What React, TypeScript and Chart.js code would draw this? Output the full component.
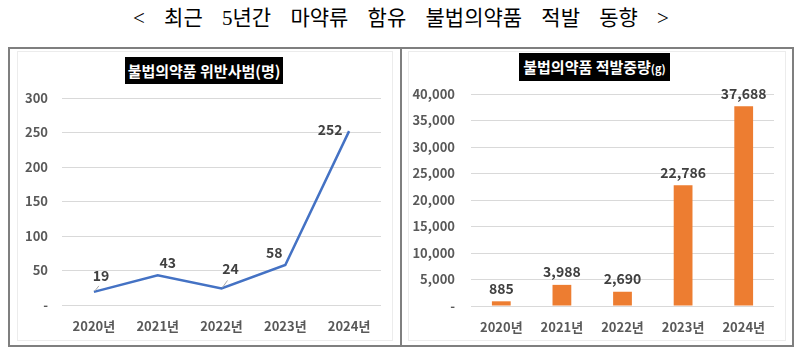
import React, { useEffect, useRef } from "react";
import { Chart, registerables } from "chart.js";

Chart.register(...registerables);

const years = ["2020년", "2021년", "2022년", "2023년", "2024년"];
const violators = [19, 43, 24, 58, 252];
const seizedGrams = [885, 3988, 2690, 22786, 37688];

const FONT = "'Noto Sans CJK KR', 'Noto Sans', sans-serif";
const TICK_COLOR = "#595959";
const LABEL_COLOR = "#404040";
const GRID_COLOR = "#d9d9d9";

const lineLabelPlugin = {
  id: "lineLabels",
  afterDatasetsDraw(chart: any, _args: any, opts: any) {
    const ctx = chart.ctx;
    const meta = chart.getDatasetMeta(0);
    const values = chart.data.datasets[0].data;
    ctx.save();
    ctx.font = `bold 14px ${FONT}`;
    ctx.fillStyle = LABEL_COLOR;
    ctx.textAlign = "center";
    ctx.textBaseline = "middle";
    meta.data.forEach((pt: any, i: number) => {
      const off = opts.offsets[i];
      if (off.leader) {
        ctx.strokeStyle = "#a6a6a6";
        ctx.lineWidth = 1;
        ctx.beginPath();
        ctx.moveTo(pt.x + 1, pt.y - 1);
        ctx.lineTo(pt.x + off.leader[0], pt.y + off.leader[1]);
        ctx.stroke();
      }
      ctx.fillText(String(values[i]), pt.x + off.dx, pt.y + off.dy);
    });
    ctx.restore();
  },
};

const barLabelPlugin = {
  id: "barLabels",
  afterDatasetsDraw(chart: any) {
    const ctx = chart.ctx;
    const meta = chart.getDatasetMeta(0);
    const values = chart.data.datasets[0].data;
    ctx.save();
    ctx.font = `bold 14px ${FONT}`;
    ctx.fillStyle = LABEL_COLOR;
    ctx.textAlign = "center";
    ctx.textBaseline = "middle";
    meta.data.forEach((bar: any, i: number) => {
      ctx.fillText(Number(values[i]).toLocaleString("en-US"), bar.x, bar.y - 13);
    });
    ctx.restore();
  },
};

function LineChart() {
  const ref = useRef<HTMLCanvasElement>(null);
  useEffect(() => {
    const chart = new Chart(ref.current!, {
      type: "line",
      data: {
        labels: years,
        datasets: [
          {
            data: violators,
            borderColor: "#4472C4",
            borderWidth: 2.5,
            pointRadius: 0,
            tension: 0,
          },
        ],
      },
      options: {
        animation: false,
        responsive: false,
        layout: { padding: { left: 0, right: 11, top: 46, bottom: 0 } },
        plugins: {
          legend: { display: false },
          tooltip: { enabled: false },
          lineLabels: {
            offsets: [
              { dx: 7, dy: -16, leader: [5, -6] },
              { dx: 10, dy: -13 },
              { dx: 9, dy: -20, leader: [6, -8] },
              { dx: -11, dy: -12 },
              { dx: -19, dy: -1 },
            ],
          },
        } as any,
        scales: {
          x: {
            offset: true,
            grid: { display: false, drawTicks: false },
            border: { display: false },
            ticks: { color: TICK_COLOR, font: { family: FONT, size: 13, weight: "bold" }, padding: 13 },
            afterFit: (s: any) => { s.height = 37; },
          },
          y: {
            min: 0,
            max: 300,
            ticks: {
              stepSize: 50,
              color: TICK_COLOR,
              font: { family: FONT, size: 13, weight: "bold" },
              padding: 14,
              callback: (v: any) => (Number(v) === 0 ? "-" : String(v)),
            },
            grid: { color: GRID_COLOR, drawTicks: false },
            border: { display: false },
            afterFit: (s: any) => { s.width = 45; },
          },
        },
      },
      plugins: [lineLabelPlugin],
    });
    return () => chart.destroy();
  }, []);
  return <canvas ref={ref} width={375} height={290} style={{ display: "block" }} />;
}

function BarChart() {
  const ref = useRef<HTMLCanvasElement>(null);
  useEffect(() => {
    const chart = new Chart(ref.current!, {
      type: "bar",
      data: {
        labels: years,
        datasets: [
          {
            data: seizedGrams,
            backgroundColor: "#ED7D31",
            barPercentage: 0.31,
            categoryPercentage: 1,
          },
        ],
      },
      options: {
        animation: false,
        responsive: false,
        layout: { padding: { left: 0, right: 12, top: 42, bottom: 0 } },
        plugins: {
          legend: { display: false },
          tooltip: { enabled: false },
        },
        scales: {
          x: {
            grid: { display: false, drawTicks: false },
            border: { display: false },
            ticks: { color: TICK_COLOR, font: { family: FONT, size: 13, weight: "bold" }, padding: 13 },
            afterFit: (s: any) => { s.height = 36; },
          },
          y: {
            min: 0,
            max: 40000,
            ticks: {
              stepSize: 5000,
              color: TICK_COLOR,
              font: { family: FONT, size: 13, weight: "bold" },
              padding: 16,
              callback: (v: any) => (Number(v) === 0 ? "-" : Number(v).toLocaleString("en-US")),
            },
            grid: { color: GRID_COLOR, drawTicks: false },
            border: { display: false },
            afterFit: (s: any) => { s.width = 63; },
          },
        },
      },
      plugins: [barLabelPlugin],
    });
    return () => chart.destroy();
  }, []);
  return <canvas ref={ref} width={378} height={290} style={{ display: "block" }} />;
}

const abs = (left: number, top: number, width: number, height: number): React.CSSProperties => ({
  position: "absolute",
  left,
  top,
  width,
  height,
  boxSizing: "border-box",
});

export default function App() {
  return (
    <div style={{ position: "absolute", left: 0, top: 0, width: 800, height: 352, background: "#fff", overflow: "hidden" }}>
      <div
        style={{
          ...abs(0, 3, 802, 30),
          textAlign: "center",
          fontFamily: "'Liberation Serif', 'Noto Sans CJK KR', serif",
          fontSize: 21,
          lineHeight: "30px",
          color: "#000",
          wordSpacing: 14,
          letterSpacing: 0,
          whiteSpace: "nowrap",
        }}
      >
        &lt; 최근 5년간 마약류 함유 불법의약품 적발 동향 &gt;
      </div>
      <div style={{ ...abs(8, 47, 394, 300), border: "2px solid #7f7f7f" }} />
      <div style={{ ...abs(400, 47, 394, 300), border: "2px solid #7f7f7f" }} />
      <div style={{ ...abs(17, 51, 376, 290), border: "1px solid #ececec" }} />
      <div style={{ ...abs(408, 51, 378, 290), border: "1px solid #ececec" }} />
      <div style={{ ...abs(17, 52, 375, 290) }}>
        <LineChart />
      </div>
      <div style={{ ...abs(408, 52, 378, 290) }}>
        <BarChart />
      </div>
      <div
        style={{
          ...abs(125, 57, 158, 27),
          background: "#000",
          color: "#fff",
          fontFamily: FONT,
          fontWeight: "bold",
          fontSize: 15,
          lineHeight: "27px",
          textAlign: "center",
          whiteSpace: "nowrap",
        }}
      >
        불법의약품 위반사범(명)
      </div>
      <div
        style={{
          ...abs(519, 53, 151, 28),
          background: "#000",
          color: "#fff",
          fontFamily: FONT,
          fontWeight: "bold",
          fontSize: 15,
          lineHeight: "28px",
          textAlign: "center",
          whiteSpace: "nowrap",
        }}
      >
        불법의약품 적발중량<span style={{ fontSize: 11 }}>(g)</span>
      </div>
    </div>
  );
}
